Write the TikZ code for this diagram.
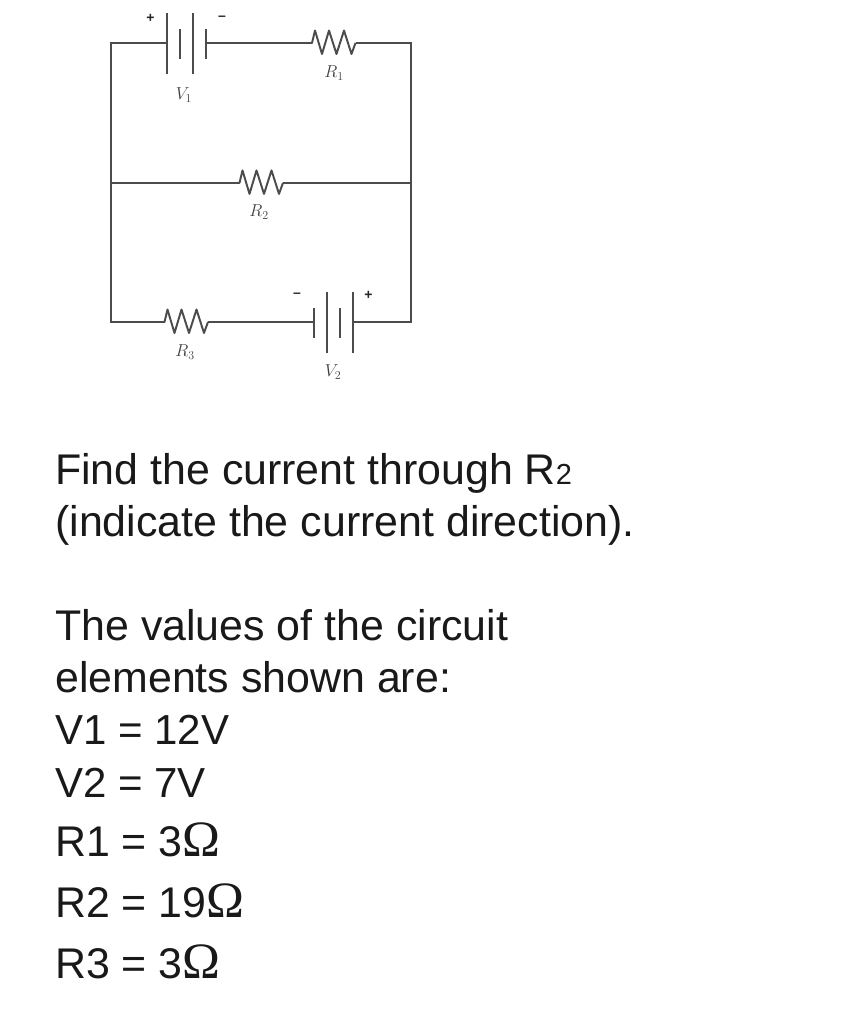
\documentclass[tikz,border=0pt]{standalone}
\usepackage{fontspec}
\setmainfont{Liberation Sans}
\newfontfamily\omegafont{Liberation Serif}
\newcommand{\ohm}{{\omegafont\fontsize{51}{51}\selectfont\char"03A9}}
\tikzset{
    wire/.style={draw=black!70,line width=1.95pt},
    plate/.style={draw=black!70,line width=1.95pt},
    partlabel/.style={inner sep=0pt,text=black!75,font=\fontsize{18}{20}\selectfont},
    signlabel/.style={inner sep=0pt,text=black!85,font=\fontsize{14}{14}\bfseries\selectfont},
    textline/.style={anchor=base west,inner sep=0pt,text=black!90,font=\fontsize{42.9}{48}\selectfont},
    valueline/.style={textline,font=\fontsize{42}{48}\selectfont},
    zigzag/.pic={
        \draw[wire,line join=round] (0,0) -- (2,0) -- (5,-12.5) -- (12,11) -- (19,-12.5) -- (26.5,11) -- (34,-12.5) -- (41.5,11) -- (45.5,0);
    }
}
\begin{document}
\begin{tikzpicture}[x=1pt,y=-1pt]
    % Keep the size of the page
    \useasboundingbox (0,0) rectangle (865,1024);
    % Corners and junctions of the circuit
    \coordinate (topleft) at (110.9,43);
    \coordinate (topright) at (410.9,43);
    \coordinate (midleft) at (110.9,182.9);
    \coordinate (midright) at (410.9,182.9);
    \coordinate (botleft) at (110.9,322);
    \coordinate (botright) at (410.9,322);
    % Ends of the resistors and batteries
    \coordinate (R1a) at (310,43);
    \coordinate (R1b) at (355.5,43);
    \coordinate (R2a) at (237.5,182.9);
    \coordinate (R2b) at (283,182.9);
    \coordinate (R3a) at (162.5,322);
    \coordinate (R3b) at (208,322);
    \coordinate (V1a) at (167,43);
    \coordinate (V1b) at (206,43);
    \coordinate (V2a) at (314,322);
    \coordinate (V2b) at (353,322);
    % Draw wires
    \draw[wire] (V1a) -- (topleft) -- (botleft) -- (R3a);
    \draw[wire] (V1b) -- (R1a);
    \draw[wire] (R1b) -- (topright) -- (botright) -- (V2b);
    \draw[wire] (midleft) -- (R2a);
    \draw[wire] (R2b) -- (midright);
    \draw[wire] (R3b) -- (V2a);
    % Draw resistors
    \pic at (R1a) {zigzag};
    \pic at (R2a) {zigzag};
    \pic at (R3a) {zigzag};
    % Draw battery V1
    \draw[plate] (167,13) -- (167,74);
    \draw[plate] (180,29) -- (180,59);
    \draw[plate] (193.4,13) -- (193.4,74);
    \draw[plate] (206.4,29) -- (206.4,59);
    % Draw battery V2
    \draw[plate] (314,308) -- (314,338);
    \draw[plate] (327,292) -- (327,353);
    \draw[plate] (340.4,308) -- (340.4,338);
    \draw[plate] (353.4,292) -- (353.4,353);
    % Draw part labels
    \node[partlabel] (labelV1) at (184,95) {$V_1$};
    \node[partlabel] (labelR1) at (334,73) {$R_1$};
    \node[partlabel] (labelR2) at (259,212) {$R_2$};
    \node[partlabel] (labelR3) at (185,352) {$R_3$};
    \node[partlabel] (labelV2) at (333,372) {$V_2$};
    \node[signlabel] (plusV1) at (150.5,18.5) {+};
    \node[signlabel] (minusV1) at (222,18.5) {–};
    \node[signlabel] (minusV2) at (297,295) {–};
    \node[signlabel] (plusV2) at (368.5,295) {+};
    % Draw question
    \node[textline] (line1) at (55,484) {Find the current through R{\fontsize{29}{29}\selectfont 2}};
    \node[textline] (line2) at (55,536) {(indicate the current direction).};
    \node[textline] (line3) at (55,640) {The values of the circuit};
    \node[textline] (line4) at (55,692) {elements shown are:};
    % Draw values
    \node[valueline] (line5) at (55,744) {V1 = 12V};
    \node[valueline] (line6) at (55,797) {V2 = 7V};
    \node[textline] (line7) at (55,856) {R1 = 3\ohm};
    \node[textline] (line8) at (55,917) {R2 = 19\ohm};
    \node[textline] (line9) at (55,978) {R3 = 3\ohm};
\end{tikzpicture}
\end{document}
